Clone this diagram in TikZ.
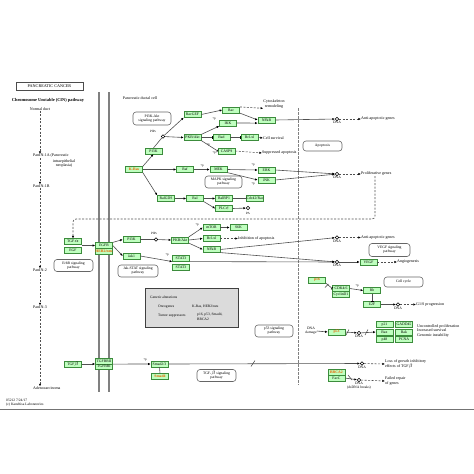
\documentclass[tikz,border=0pt]{standalone}
\usepackage{fontspec}
\setmainfont{Liberation Serif}
\usetikzlibrary{arrows.meta}
\definecolor{kgreen}{RGB}{191,255,191}
\definecolor{kborder}{RGB}{60,140,60}
\definecolor{mutc}{RGB}{235,95,0}
\definecolor{lnc}{RGB}{80,80,80}
\begin{document}
\begin{tikzpicture}[x=1pt,y=-1pt,
 gene/.style={draw=kborder, fill=kgreen, line width=0.55pt, minimum width=17pt, minimum height=5.6pt, inner sep=0pt, font=\fontsize{3.8}{4}\selectfont},
 mut/.style={gene, text=mutc, font=\fontsize{3.8}{4}\selectfont\bfseries},
 pw/.style={draw=black!60, line width=0.6pt, rounded corners=3pt, fill=white, align=center, font=\fontsize{3.7}{4}\selectfont, inner sep=0pt},
 lbl/.style={font=\fontsize{4}{4.6}\selectfont, inner sep=0pt, align=center},
 sm/.style={font=\fontsize{3.6}{4.1}\selectfont, inner sep=0pt, align=center},
 pp/.style={font=\fontsize{3.2}{3.4}\selectfont, inner sep=0pt},
 dna/.style={circle, draw=black, fill=white, minimum size=3.6pt, inner sep=0pt, line width=0.45pt},
 pl/.style={draw=lnc, line width=0.6pt},
 ar/.style={pl, -{Latex[length=2.6pt,width=2.3pt,color=black]}},
 dar/.style={ar, dash pattern=on 2pt off 1.5pt},
 inh/.style={pl, -{Bar[width=3pt,color=black]}},
 memb/.style={draw=black!50, line width=1.5pt},
 nuc/.style={draw=black!50, line width=0.7pt, dash pattern=on 2.5pt off 1.5pt},
 slash/.style={draw=black!75, line width=0.5pt}
]
\useasboundingbox (0,0) rectangle (474,474);
\fill[white] (0,0) rectangle (474,474);

% frame
\draw[black!55, line width=0.9pt] (0,409) -- (474,409);

% left column
\node[draw=black!70, line width=0.6pt, minimum width=67pt, minimum height=8pt, inner sep=0pt, font=\fontsize{4.2}{4.4}\selectfont] (title) at (49.5,86) {PANCREATIC CANCER};
\node[lbl, font=\fontsize{4.4}{4.6}\selectfont\bfseries] (cin) at (48,100) {Chromosome Unstable (CIN) pathway};
\node[lbl] (normal) at (40,109) {Normal duct};
\node[lbl, anchor=west] (p1a) at (33,156) {PanIN-1A (Pancreatic};
\node[lbl] (p1ax) at (64,163.5) {intraepithelial\\neoplasia)};
\node[lbl, anchor=west] (p1b) at (33,186) {PanIN-1B};
\node[lbl, anchor=west] (p2) at (33,270) {PanIN-2};
\node[lbl, anchor=west] (p3) at (33,307) {PanIN-3};
\node[lbl, anchor=west] (adeno) at (33,388) {Adenocarcinoma};
\draw[dar] (normal.south) -- (p1a.north -| normal.south);
\draw[dar] (p1a.south -| normal.south) -- (p1b.north -| normal.south);
\draw[dar] (p1b.south -| normal.south) -- (p2.north -| normal.south);
\draw[dar] (p2.south -| normal.south) -- (p3.north -| normal.south);
\draw[dar] (p3.south -| normal.south) -- (adeno.north -| normal.south);
\node[sm, anchor=west] (copy1) at (6,400.5) {05212 7/24/17};
\node[sm, anchor=west] (copy2) at (6,405) {(c) Kanehisa Laboratories};

% membranes and compartments
\draw[memb] (99,92) -- (99,392);
\draw[memb] (109,92) -- (109,392);
\draw[nuc] (298,108) -- (298,385);
\node[lbl] (cell) at (140,98) {Pancreatic ductal cell};

% ---------- top section
\node[pw, minimum width=38pt, minimum height=13pt] (pi3kakt) at (152,118.5) {PI3K-Akt\\signaling pathway};
\node[gene] (racgef) at (192.5,114.5) {RacGEF};
\node[gene] (rac) at (231,110) {Rac};
\node[lbl] (cyto) at (274,104) {Cytoskeleton\\remodeling};
\node[gene] (nfkb1) at (266.5,120) {NFkB};
\node[gene] (ikk) at (228,123) {IKK};
\node[pp] at (214,119) {+p};
\node[pp] (pips1) at (153,131) {PIPs};
\node[dna] (c1) at (163,136.5) {};
\node[gene] (akt1) at (192.5,137.5) {PKB/Akt};
\node[gene] (bad) at (221.5,137.5) {Bad};
\node[gene] (bclxl1) at (249.5,137.5) {Bcl-xl};
\node[lbl, anchor=west] (cellsurv) at (263,138) {Cell survival};
\node[gene] (casp9) at (226.5,151) {CASP9};
\node[pp] at (208,144.5) {+p};
\node[pp] at (214,153) {+p};
\node[lbl, anchor=west] (suppapo) at (262,153) {Suppressed apoptosis};
\node[gene] (pi3k1) at (153.5,151) {PI3K};
\node[mut] (kras) at (134,169.5) {K-Ras};
\node[gene] (raf) at (185,169.5) {Raf};
\node[gene] (mek) at (218.5,169.5) {MEK};
\node[pp] at (202,165.5) {+p};
\node[gene] (erk) at (266.5,170) {ERK};
\node[pp] at (253,165) {+p};
\node[gene] (jnk) at (266.5,180) {JNK};
\node[pp] at (253,183.5) {+p};
\node[pw, minimum width=37pt, minimum height=12pt] (mapk) at (223.5,182) {MAPK signaling\\pathway};
\node[gene] (ralgds) at (166,198.5) {RalGDS};
\node[gene] (ral) at (195,198.5) {Ral};
\node[gene] (ralbp1) at (224,198.5) {RalBP1};
\node[gene] (cdc42) at (255,198.5) {Cdc42/Rac};
\node[gene] (plce) at (224,208.5) {PLC$\varepsilon$};
\node[dna] (cpa) at (248,208) {};
\node[pp] (pa) at (248,213) {PA};

\draw[ar] (kras.north east) -- (pi3k1.south);
\draw[pl] (pi3k1.north) -- (c1);
\draw[ar] (c1) -- (racgef.south west);
\draw[ar] (c1) -- (akt1.west);
\draw[ar] (racgef.east) -- (rac.west);
\draw[dar] (rac.north east) -- (cyto.south west);
\draw[ar] (rac.south east) -- (nfkb1.west);
\draw[ar] (akt1.north east) -- (ikk.south west);
\draw[ar] (ikk.east) -- (nfkb1.south west);
\draw[inh] (akt1.east) -- (bad.west);
\draw[inh] (bad.east) -- (bclxl1.west);
\draw[ar] (bclxl1.east) -- (cellsurv.west);
\draw[inh] (akt1.south east) -- (casp9.west);
\draw[dar] (casp9.east) -- (suppapo.west);
\draw[ar] (kras.east) -- (raf.west);
\draw[ar] (raf.east) -- (mek.west);
\draw[ar] (mek.east) -- (erk.west);
\draw[ar] (mek.south east) -- (jnk.west);
\draw[ar] (kras.south east) -- (ralgds.north west);
\draw[ar] (ralgds.east) -- (ral.west);
\draw[ar] (ral.east) -- (ralbp1.west);
\draw[pl] (ralbp1.east) -- (cdc42.west);
\draw[ar] (ral.south east) -- (plce.west);
\draw[ar] (plce.east) -- (cpa);

% nucleus top
\node[dna] (d1) at (337,119) {};
\node[sm, anchor=north] at (d1.south) {DNA};
\node[lbl, anchor=west] (anti1) at (361,119) {Anti-apoptotic genes};
\draw[ar] (nfkb1.east) -- (d1);
\draw[dar] (d1) -- (anti1.west);
\node[pw, minimum width=39pt, minimum height=10pt] (apo) at (322.5,146) {Apoptosis};
\node[dna] (d2) at (337,174) {};
\node[sm, anchor=north] at (d2.south) {DNA};
\node[lbl, anchor=west] (prolif) at (361,174) {Proliferative genes};
\draw[ar] (erk.east) -- (d2);
\draw[ar] (jnk.east) -- (d2);
\draw[dar] (d2) -- (prolif.west);

% feedback
\draw[dar, rounded corners=3pt] (prolif.south -| 375,0) -- (375,219) -- (73,219) -- (73,238.5);

% ---------- middle section
\node[gene] (tgfa) at (73,241.5) {TGF$\alpha$};
\node[gene] (egf) at (73,250.5) {EGF};
\node[gene] (egfr) at (104,245.5) {EGFR};
\node[mut] (her2) at (104,251.1) {HER2/neu};
\node[pw, minimum width=39pt, minimum height=12pt] (erbb) at (73.5,265.5) {ErbB signaling\\pathway};
\node[gene] (pi3k2) at (131.5,239.5) {PI3K};
\node[gene] (jak1) at (131.5,256) {Jak1};
\node[pw, minimum width=40pt, minimum height=12pt] (jakstat) at (138,271) {Jak-STAT signaling\\pathway};
\node[pp] (pips2) at (154,233.5) {PIPs};
\node[dna] (c2) at (156,239.5) {};
\node[gene] (akt2) at (180,240) {PKB/Akt};
\node[gene] (mtor) at (211.5,227.5) {mTOR};
\node[pp] at (197,225) {+p};
\node[gene] (s6k) at (238.5,227.5) {S6K};
\node[gene] (bclxl2) at (211.5,238.5) {Bcl-xl};
\node[lbl, anchor=west] (inhib) at (238,238.5) {Inhibition of apoptosis};
\node[gene] (nfkb2) at (211.5,249.5) {NFkB};
\node[gene] (stat3a) at (181,258.5) {STAT3};
\node[gene] (stat3b) at (181,267.5) {STAT3};
\node[pp] at (167,254.5) {+p};

\draw[ar] (tgfa.south east |- egfr) -- (egfr.west);
\draw[ar] (egfr.north east) -- (pi3k2.west);
\draw[ar] (egfr.east) -- (jak1.west);
\draw[pl] (pi3k2.east) -- (c2);
\draw[ar] (c2) -- (akt2.west);
\draw[ar] (akt2.north east) -- (mtor.west);
\draw[ar] (mtor.east) -- (s6k.west);
\draw[ar] (akt2.east) -- (bclxl2.west);
\draw[dar] (bclxl2.east) -- (inhib.west);
\draw[ar] (akt2.south east) -- (nfkb2.west);
\draw[ar] (jak1.east) -- (stat3a.south west);

\node[dna] (d3) at (337,237.5) {};
\node[sm, anchor=north] at (d3.south) {DNA};
\node[lbl, anchor=west] (anti2) at (361,237.5) {Anti-apoptotic genes};
\draw[dar] (d3) -- (anti2.west);
\node[pw, minimum width=41pt, minimum height=13pt] (vegfpw) at (389.5,250) {VEGF signaling\\pathway};
\node[dna] (d4) at (337,262) {};
\node[sm, anchor=north] at (d4.south) {DNA};
\node[gene] (vegf) at (368.5,262) {VEGF};
\node[lbl, anchor=west] (angio) at (397,262) {Angiogenesis};
\draw[ar] (d4) -- (vegf.west);
\draw[dar] (vegf.east) -- (angio.west);
\draw[ar] (nfkb2.east) -- (d3);
\draw[ar] (nfkb2.south east) -- (d4);
\draw[ar] (stat3a.south east) -- (d4);

% cell cycle
\node[mut] (p16) at (317,280) {p16};
\node[gene] (cdk46) at (341,288.5) {CDK4/6};
\node[gene] (cycd1) at (341,294.1) {CyclinD1};
\node[gene] (rb) at (372,290.5) {Rb};
\node[gene] (e2f) at (372,304.5) {E2F};
\node[pp] at (357,286) {+p};
\node[pw, minimum width=39pt, minimum height=10pt] (ccyc) at (403.5,282) {Cell cycle};
\node[dna] (d5) at (398,304.5) {};
\node[sm, anchor=north] at (d5.south) {DNA};
\node[lbl, anchor=west] (g1s) at (416,304.5) {G1/S progression};
\draw[inh] (p16.south east) -- (cdk46.west);
\draw[slash] (325,287.5) -- (328.5,284);
\draw[ar] (cdk46.east) -- (rb.west);
\draw[inh] (rb.south) -- (e2f.north);
\draw[ar] (e2f.east) -- (d5);
\draw[dar] (d5) -- (g1s.west);

% genetic alterations box
\draw[draw=black!75, fill=black!14, line width=0.9pt] (145,288) rectangle (238,327);
\node[sm, anchor=west] (ga) at (150,297) {Genetic alterations};
\node[sm, anchor=west] (onc) at (158,307) {Oncogenes};
\node[sm, anchor=west] (onc2) at (192,307) {K-Ras, HER2/neu};
\node[sm, anchor=west] (tsup) at (158,316) {Tumor suppressors};
\node[sm, anchor=north west, align=left] (tsup2) at (197,313.2) {p16, p53, Smad4,\\BRCA2};

\node[pw, minimum width=38pt, minimum height=12pt] (p53pw) at (274,331) {p53 signaling\\pathway};

% p53
\node[sm] (dnad) at (311,331) {DNA\\damage};
\node[mut] (p53) at (336.5,332) {p53};
\node[dna] (d6) at (359,333) {};
\node[sm, anchor=north] at (d6.south) {DNA};
\node[gene] (gp21) at (384.5,324.5) {p21};
\node[gene] (ggadd) at (404,324.5) {GADD45};
\node[gene] (gbax) at (384.5,332) {Bax};
\node[gene] (gbak) at (404,332) {Bak};
\node[gene] (gp48) at (384.5,339.5) {p48};
\node[gene] (gpcna) at (404,339.5) {PCNA};
\node[lbl, anchor=west, align=left] (unc) at (417,331) {Uncontrolled proliferation\\Increased survival\\Genomic instability};
\draw[ar] (dnad.east) -- (p53.west);
\draw[ar] (p53.east) -- (d6);
\draw[slash] (346,335) -- (349,329.5);
\draw[ar] (d6) -- (gbax.west);
\draw[slash] (365,335) -- (368,329.5);

% TGF-beta
\node[gene] (tgfb) at (73,364) {TGF$\beta$};
\node[gene] (tgfbr1) at (104,361) {TGFBRII};
\node[gene] (tgfbr2) at (104,366.6) {TGFBRI};
\node[gene] (smad23) at (159.5,364) {Smad2/3};
\node[mut] (smad4) at (160,376.5) {Smad4};
\node[pp] at (145,360) {+p};
\node[pw, minimum width=39pt, minimum height=12pt] (tgfpw) at (216.5,375.5) {TGF-$\beta$ signaling\\pathway};
\draw[ar] (tgfb.east) -- (tgfb.east -| tgfbr1.west);
\draw[ar] (tgfbr1.south east) -- (smad23.west);
\draw[pl] (smad23.south) -- (smad4.north);
\node[dna] (d7) at (362,363.5) {};
\node[sm, anchor=north] at (d7.south) {DNA};
\node[lbl, anchor=west, align=left] (loss) at (385,364) {Loss of growth inhibitory\\effects of TGF$\beta$};
\draw[ar] (smad23.east) -- (d7);
\draw[slash] (251,366.5) -- (255,360.5);
\draw[dar] (d7) -- (loss.west);

\node[mut] (brca2) at (336.5,372.5) {BRCA2};
\node[gene] (facc) at (336.5,378.1) {FacC};
\node[dna] (d8) at (359,380) {};
\node[sm, anchor=north, align=center] (d8l) at (d8.south) {DNA\\(dsDNA breaks)};
\node[lbl, anchor=west, align=left] (fail) at (385,381) {Failed repair\\of genes};
\draw[ar] (facc.east) -- (d8);
\draw[slash] (348,375) -- (352,380);
\draw[dar] (d8) -- (fail.west);
\end{tikzpicture}
\end{document}
